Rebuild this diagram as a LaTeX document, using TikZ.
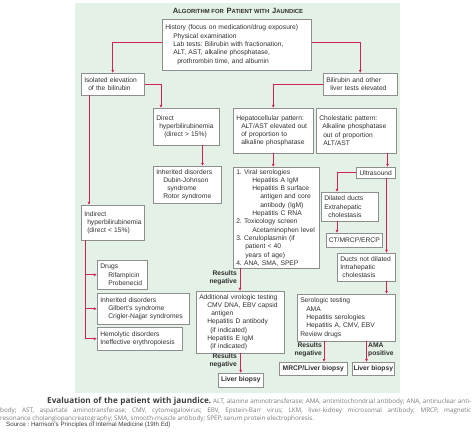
\documentclass[tikz,border=0pt]{standalone}
\usepackage{fontspec}
\setmainfont{Liberation Sans}
\newfontfamily\capfont{Open Sans}
\usetikzlibrary{arrows.meta,positioning,calc,shadows}
\definecolor{panel}{HTML}{E3F1E7}
\definecolor{arrowred}{HTML}{D3215B}
\definecolor{boxline}{HTML}{8E8E8E}
\definecolor{ink}{HTML}{303030}
\definecolor{capgray}{HTML}{7A7A7A}
\definecolor{capdark}{HTML}{3C3C3C}
\hyphenpenalty=10000
\exhyphenpenalty=10000
\frenchspacing
\newcommand{\indt}[1]{\hspace*{#1pt}}
\newcommand{\fsc}[2]{{\fontsize{7.6}{9}\selectfont #1}{\fontsize{5.9}{9}\selectfont #2}}
\tikzset{
  box/.style={draw=boxline, line width=0.5pt, fill=white, anchor=north west, inner xsep=3pt, inner ysep=1pt, text=ink, font=\fontsize{6.7}{8.3}\selectfont, align=left, drop shadow={shadow xshift=0.7pt, shadow yshift=-0.7pt, opacity=0.3}},
  cbox/.style={box, align=center, inner xsep=1pt},
  lbl/.style={font=\bfseries\fontsize{6.7}{8.3}\selectfont, text=ink, inner sep=0pt},
  flow/.style={-{Latex[length=3.2pt,width=3pt]}, line width=0.8pt, draw=arrowred},
}
\begin{document}
\begin{tikzpicture}[x=1pt,y=-1pt]
  \useasboundingbox (0,0) rectangle (474,438);
  \fill[panel] (75,3) rectangle (400,393);
  \node[font=\bfseries, text=ink, inner sep=0pt] (title) at (238,11) {\fsc{A}{LGORITHM FOR} \fsc{P}{ATIENT WITH} \fsc{J}{AUNDICE}};

  % top
  \node[box,text width=143pt,minimum height=51pt] (hist) at (162,19) {History (focus on medication/drug exposure)\\ \indt{8}Physical examination\\ \indt{8}Lab tests: Bilirubin with fractionation,\\ \indt{8}ALT, AST, alkaline phosphatase,\\ \indt{12}prothrombin time, and albumin};
  \node[box,text width=57pt,minimum height=22pt] (iso) at (81,73) {Isolated elevation\\ \indt{4}of the bilirubin};
  \node[box,text width=68pt,minimum height=22pt] (bil) at (323,73) {Bilirubin and other\\ \indt{4}liver tests elevated};

  % bilirubin branch
  \node[box,text width=60pt,minimum height=37pt] (direct) at (153,108) {Direct\\ \indt{3}hyperbilirubinemia\\ \indt{8}(direct > 15\%)};
  \node[box,text width=62pt,minimum height=37pt] (dubin) at (153,166) {Inherited disorders\\ \indt{7}Dubin-Johnson\\ \indt{11}syndrome\\ \indt{7}Rotor syndrome};
  \node[box,text width=57pt,minimum height=35pt] (indir) at (81,205) {Indirect\\ \indt{3}hyperbilirubinemia\\ \indt{3}(direct < 15\%)};
  \node[box,text width=44pt,minimum height=29pt] (drugs) at (97,260) {Drugs\\ \indt{8}Rifampicin\\ \indt{8}Probenecid};
  \node[box,text width=86pt,minimum height=31pt] (gilb) at (97,293) {Inherited disorders\\ \indt{8}Gilbert's syndrome\\ \indt{8}Crigler-Najjar syndromes};
  \node[box,text width=79pt,minimum height=23pt] (hemo) at (97,327) {Hemolytic disorders\\Ineffective erythropoiesis};

  % liver tests branch
  \node[box,text width=74pt,minimum height=45pt] (hep) at (233,108) {Hepatocellular pattern:\\ \indt{5}ALT/AST elevated out\\ \indt{5}of proportion to\\ \indt{5}alkaline phosphatase};
  \node[box,text width=74pt,minimum height=45pt] (chol) at (316,108) {Cholestatic pattern:\\ \indt{3}Alkaline phosphatase\\ \indt{4}out of proportion\\ \indt{4}ALT/AST};
  \node[box,text width=80pt,minimum height=101pt] (viral) at (233,167) {1. Viral serologies\\ \indt{16}Hepatitis A IgM\\ \indt{16}Hepatitis B surface\\ \indt{24}antigen and core\\ \indt{24}antibody (IgM)\\ \indt{16}Hepatitis C RNA\\2. Toxicology screen\\ \indt{16}Acetaminophen level\\3. Ceruloplasmin (if\\ \indt{9}patient < 40\\ \indt{9}years of age)\\4. ANA, SMA, SPEP};
  \node[cbox,minimum width=39pt,minimum height=11pt] (us) at (356,167) {Ultrasound};
  \node[box,text width=51pt,minimum height=29pt] (dil) at (321,192) {Dilated ducts\\Extrahepatic\\ \indt{4}cholestasis};
  \node[cbox,minimum width=56pt,minimum height=14pt] (ct) at (326,233) {CT/MRCP/ERCP};
  \node[box,text width=52pt,minimum height=28pt] (notd) at (337,253) {Ducts not dilated\\Intrahepatic\\ \indt{2}cholestasis};
  \node[box,text width=82pt,minimum height=62pt] (addv) at (196,291) {Additional virologic testing\\ \indt{8}CMV DNA, EBV capsid\\ \indt{12}antigen\\ \indt{8}Hepatitis D antibody\\ \indt{11}(if indicated)\\ \indt{8}Hepatitis E IgM\\ \indt{11}(if indicated)};
  \node[box,text width=92pt,minimum height=47pt] (sero) at (297,294) {Serologic testing\\ \indt{6}AMA\\ \indt{6}Hepatitis serologies\\ \indt{6}Hepatitis A, CMV, EBV\\Review drugs};
  \node[cbox,font=\bfseries\fontsize{6.7}{8.3}\selectfont,minimum width=45pt,minimum height=14pt] (lb1) at (218,373) {Liver biopsy};
  \node[cbox,font=\bfseries\fontsize{6.7}{8.3}\selectfont,minimum width=68pt,minimum height=13pt] (mrcp) at (279,362) {MRCP/Liver biopsy};
  \node[cbox,font=\bfseries\fontsize{6.7}{8.3}\selectfont,minimum width=42pt,minimum height=13pt] (lb2) at (352,362) {Liver biopsy};

  % labels on arrows
  \node[lbl,anchor=east,align=right] (rneg1) at (237,278) {Results\\negative};
  \node[lbl,anchor=east,align=right] (rneg2) at (237,361) {Results\\negative};
  \node[lbl,anchor=east,align=right] (rneg3) at (322,350) {Results\\negative};
  \node[lbl,anchor=west,align=left] (amapos) at (368,350) {AMA\\positive};

  % arrows
  \draw[flow] ([yshift=2.5pt]hist.west) -| (iso.north);
  \draw[flow] ([yshift=2.5pt]hist.east) -| (bil.north);
  \draw[flow] (iso.east) -| ([xshift=8pt]direct.north west);
  \draw[flow] ([xshift=-17pt]direct.south east) -- ([xshift=-17pt]direct.south east |- dubin.north);
  \draw[flow] ([xshift=8pt]iso.south west) -- ([xshift=8pt]iso.south west |- indir.north);
  \coordinate (trunk) at ([xshift=4pt]indir.south west);
  \draw[flow] (trunk) |- (hemo.west);
  \draw[flow] (trunk |- drugs.west) -- (drugs.west);
  \draw[flow] (trunk |- gilb.west) -- (gilb.west);
  \draw[flow] (bil.west) -| (hep.north);
  \draw[flow] (hep.south) -- (hep.south |- viral.north);
  \draw[flow] ([xshift=-8pt]us.north east |- chol.south) -- ([xshift=-8pt]us.north east);
  \draw[flow] (us.west) -| ([xshift=16pt]dil.north west);
  \draw[flow] ([xshift=-9pt]us.south east) -- ([xshift=-9pt]us.south east |- notd.north);
  \draw[flow] ([xshift=16pt]dil.south west) -- ([xshift=16pt]dil.south west |- ct.north);
  \draw[flow] ([xshift=-9pt]notd.south east) -- ([xshift=-9pt]notd.south east |- sero.north);
  \draw[flow] ([xshift=7pt]viral.south west) -- ([xshift=7pt]viral.south west |- addv.north);
  \draw[flow] (lb1.north |- addv.south) -- (lb1.north);
  \draw[flow] ([xshift=27pt]sero.south west) -- ([xshift=27pt]sero.south west |- mrcp.north);
  \draw[flow] ([xshift=-29pt]sero.south east) -- ([xshift=-29pt]sero.south east |- lb2.north);

  % caption
  \node[anchor=north west, inner sep=0pt, text width=471pt, align=justify, text=capgray, font=\capfont\fontsize{6.3}{8.3}\selectfont] (caption) at (0,397.5) {\hspace*{47pt}{\bfseries\color{capdark}\fontsize{8.2}{8.3}\selectfont Evaluation of the patient with jaundice.} ALT, alanine aminotransferase; AMA, antimitochondrial antibody; ANA, antinuclear anti-\linebreak body; AST, aspartate aminotransferase; CMV, cytomegalovirus; EBV, Epstein-Barr virus; LKM, liver-kidney microsomal antibody; MRCP, magnetic\linebreak resonance cholangiopancreatography; SMA, smooth-muscle antibody; SPEP, serum protein electrophoresis.};
  \node[anchor=west, inner sep=0pt, text=capdark, font=\fontsize{6.2}{7}\selectfont] (source) at (6,425) {Source : Harrison's Principles of Internal Medicine (19th Ed)};
\end{tikzpicture}
\end{document}
